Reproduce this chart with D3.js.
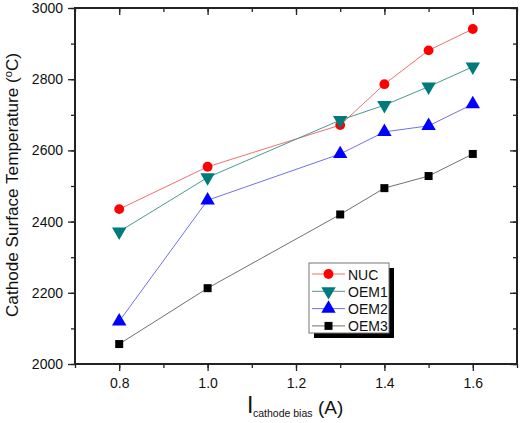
<!DOCTYPE html>
<html>
<head>
<meta charset="utf-8">
<script src="https://cdn.jsdelivr.net/npm/d3@7"></script>
<style>
  body { margin: 0; background: #fff; }
  svg { display: block; }
</style>
</head>
<body>
<svg></svg>
<script>
// data
const currents = [0.8, 1.0, 1.3, 1.4, 1.5, 1.6];
const nucTemp  = [2435, 2554, 2671, 2786, 2881, 2941];
const oem1Temp = [2372, 2524, 2685, 2727, 2779, 2835];
const oem2Temp = [2120, 2460, 2590, 2652, 2669, 2730];
const oem3Temp = [2056, 2213, 2420, 2494, 2528, 2590];
const seriesNames = ["NUC", "OEM1", "OEM2", "OEM3"];
const xTicks = [0.8, 1.0, 1.2, 1.4, 1.6];
const yTicks = [2000, 2200, 2400, 2600, 2800, 3000];

const W = 520, H = 423;
const margin = { top: 8, right: 3, bottom: 59, left: 75 };
const FONT = "'Liberation Sans', Arial, sans-serif";

let svg = d3.select("svg").attr("width", W).attr("height", H)
    .attr("font-family", FONT);

const x = d3.scaleLinear().domain([0.7, 1.7]).range([margin.left, W - margin.right]);
const y = d3.scaleLinear().domain([2000, 3000]).range([H - margin.bottom, margin.top]);

// marker + line styles per series
const styles = [
    { fill: "#ff0000", line: "#f07070", sym: d3.symbolCircle, size: 76, rot: 0 },
    { fill: "#007b7b", line: "#4a9a90", sym: d3.symbolTriangle, size: 90, rot: 180 },
    { fill: "#0000ff", line: "#7070f0", sym: d3.symbolTriangle, size: 90, rot: 0 },
    { fill: "#000000", line: "#707070", sym: d3.symbolSquare, size: 64, rot: 0 }
];
const allSeries = [nucTemp, oem1Temp, oem2Temp, oem3Temp];

const minorX = d3.range(7, 18).map(d => d / 10);
const minorY = d3.range(2000, 3001, 100);

// bottom / left: ticks outside, with labels
svg.append("g")
    .attr("transform", `translate(0,${y(2000)})`)
    .call(d3.axisBottom(x).tickValues(minorX).tickSize(4).tickFormat(""))
    .call(g => g.select(".domain").remove());
svg.append("g")
    .attr("class", "xaxis")
    .attr("transform", `translate(0,${y(2000)})`)
    .call(d3.axisBottom(x).tickValues(xTicks).tickSize(7).tickPadding(7).tickFormat(d3.format(".1f")))
    .call(g => g.select(".domain").remove());

svg.append("g")
    .attr("transform", `translate(${x(0.7)},0)`)
    .call(d3.axisLeft(y).tickValues(minorY).tickSize(4).tickFormat(""))
    .call(g => g.select(".domain").remove());
svg.append("g")
    .attr("class", "yaxis")
    .attr("transform", `translate(${x(0.7)},0)`)
    .call(d3.axisLeft(y).tickValues(yTicks).tickSize(7).tickPadding(5).tickFormat(d3.format("d")))
    .call(g => g.select(".domain").remove());

// top and right: inward ticks, no labels
svg.append("g")
    .attr("transform", `translate(0,${y(3000)})`)
    .call(d3.axisBottom(x).tickValues(minorX).tickSize(4).tickFormat(""))
    .call(g => g.select(".domain").remove());
svg.append("g")
    .attr("transform", `translate(0,${y(3000)})`)
    .call(d3.axisBottom(x).tickValues(xTicks).tickSize(7).tickFormat(""))
    .call(g => g.select(".domain").remove());
svg.append("g")
    .attr("transform", `translate(${x(1.7)},0)`)
    .call(d3.axisLeft(y).tickValues(minorY).tickSize(4).tickFormat(""))
    .call(g => g.select(".domain").remove());
svg.append("g")
    .attr("transform", `translate(${x(1.7)},0)`)
    .call(d3.axisLeft(y).tickValues(yTicks).tickSize(7).tickFormat(""))
    .call(g => g.select(".domain").remove());

svg.selectAll(".tick line").attr("stroke", "#222").attr("stroke-width", 1.3);
svg.selectAll(".tick text").attr("font-size", 14).attr("fill", "#111")
    .attr("font-family", FONT);

// frame
svg.append("rect")
    .attr("x", x(0.7)).attr("y", y(3000))
    .attr("width", x(1.7) - x(0.7)).attr("height", y(2000) - y(3000))
    .attr("fill", "none").attr("stroke", "#222").attr("stroke-width", 2);

// series
const line = d3.line().x((d, i) => x(currents[i])).y(d => y(d));
allSeries.forEach((vals, k) => {
    const st = styles[k];
    svg.append("path")
        .attr("d", line(vals))
        .attr("fill", "none")
        .attr("stroke", st.line)
        .attr("stroke-width", 1);
    svg.append("g").selectAll("path")
        .data(vals)
        .join("path")
        .attr("d", d3.symbol().type(st.sym).size(st.size))
        .attr("transform", (d, i) => `translate(${x(currents[i])},${y(d)}) rotate(${st.rot})`)
        .attr("fill", st.fill);
});

// legend
const lg = svg.append("g").attr("transform", "translate(309,263)");
lg.append("rect").attr("x", 5).attr("y", 5).attr("width", 80).attr("height", 70).attr("fill", "#000");
lg.append("rect").attr("x", 0).attr("y", 0).attr("width", 80).attr("height", 70)
    .attr("fill", "#fff").attr("stroke", "#777").attr("stroke-width", 1);
seriesNames.forEach((name, k) => {
    const st = styles[k];
    const yy = 11 + k * 17.3;
    lg.append("line").attr("x1", 3).attr("x2", 36).attr("y1", yy).attr("y2", yy)
        .attr("stroke", st.line).attr("stroke-width", 1);
    lg.append("path")
        .attr("d", d3.symbol().type(st.sym).size(st.size))
        .attr("transform", `translate(19.5,${yy}) rotate(${st.rot})`)
        .attr("fill", st.fill);
    lg.append("text").attr("x", 39).attr("y", yy + 5.5)
        .attr("font-size", 14).attr("fill", "#111").text(name);
});

// axis titles
const yt = svg.append("text")
    .attr("transform", `translate(18,185) rotate(-90)`)
    .attr("text-anchor", "middle")
    .attr("font-size", 17).attr("fill", "#111")
    .attr("textLength", 264).attr("lengthAdjust", "spacingAndGlyphs");
yt.append("tspan").text("Cathode Surface Temperature (");
yt.append("tspan").attr("dy", -6).attr("font-size", 11).text("o");
yt.append("tspan").attr("dy", 6).text("C)");

const xt = svg.append("text").attr("fill", "#111");
xt.append("tspan").attr("x", 247).attr("y", 413).attr("font-size", 23).text("I");
xt.append("tspan").attr("x", 253).attr("y", 416.5).attr("font-size", 10.5).text("cathode bias");
xt.append("tspan").attr("x", 318).attr("y", 414).attr("font-size", 19).text("(A)");
</script>
</body>
</html>
